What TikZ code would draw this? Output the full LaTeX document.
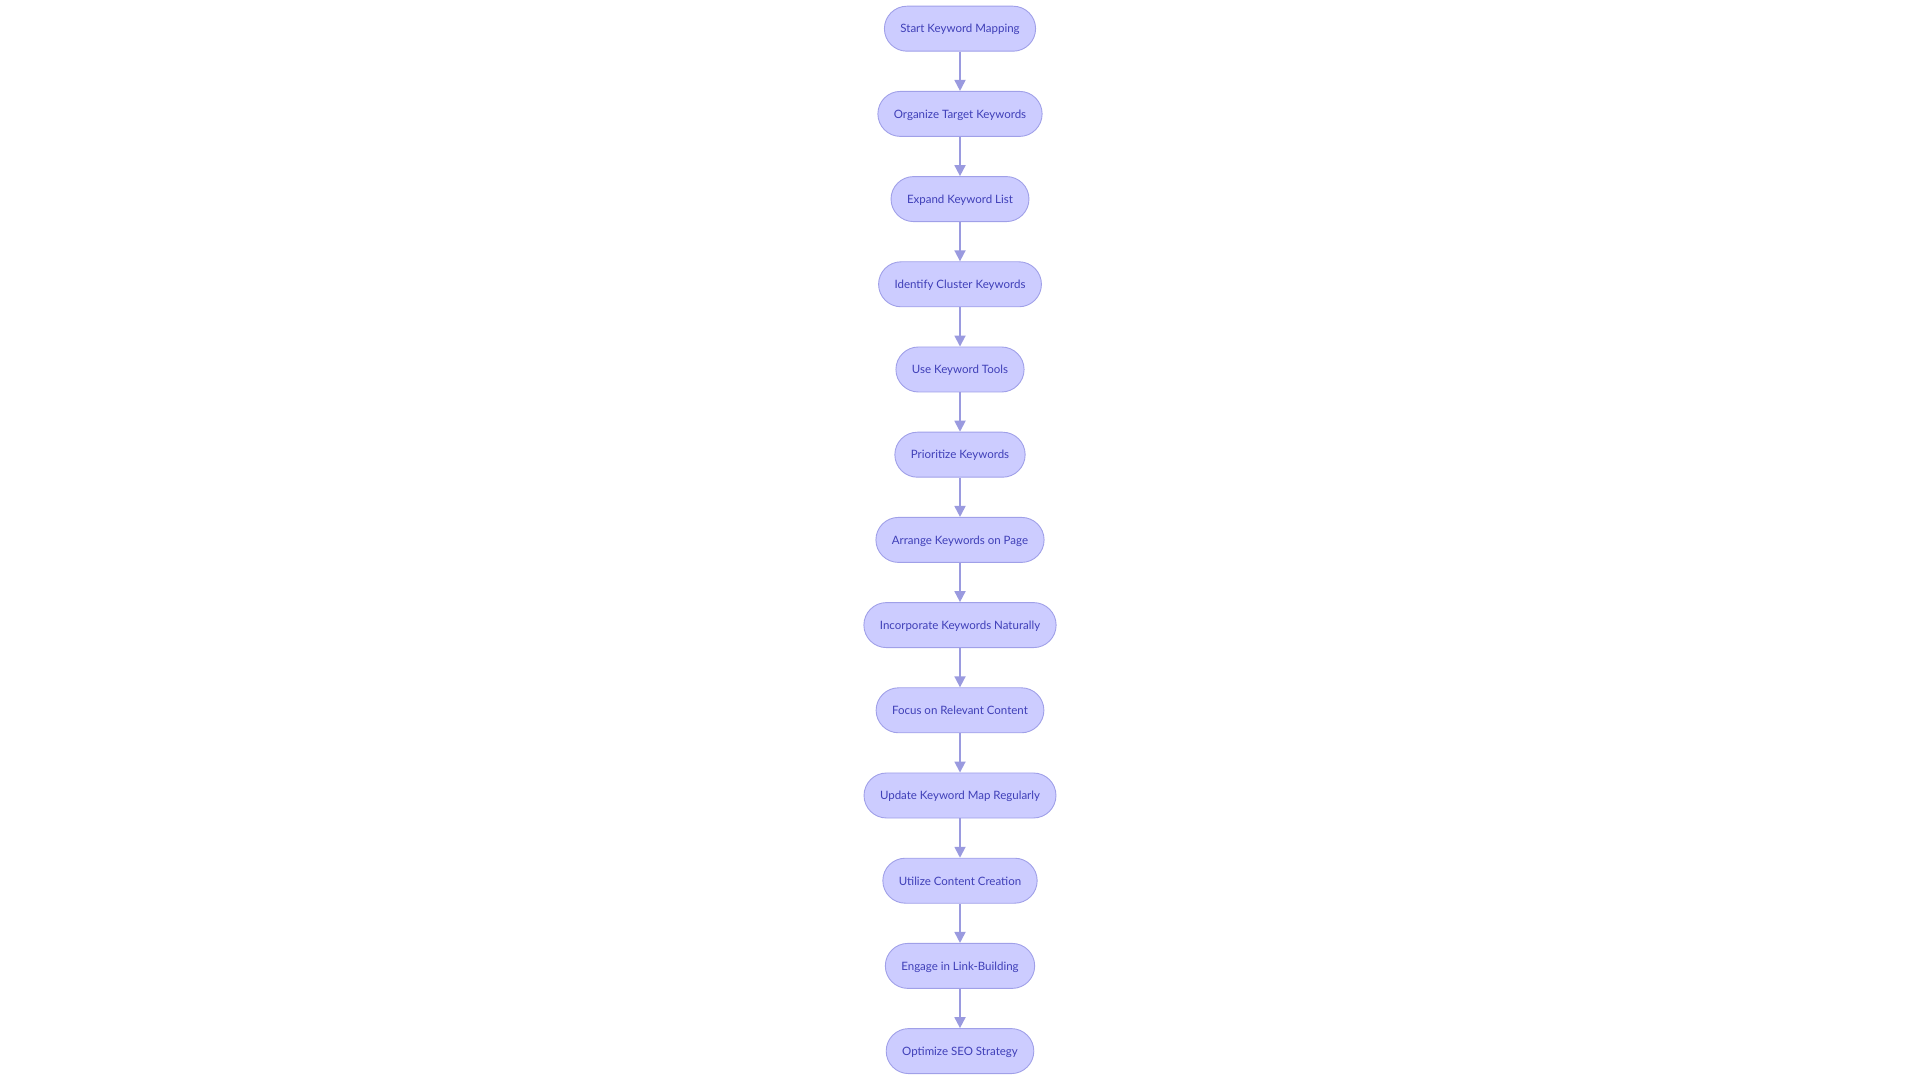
\documentclass[tikz,border=0pt]{standalone}
\usepackage{fontspec}
\setmainfont{Lato}
\usetikzlibrary{arrows.meta}
\definecolor{boxfill}{HTML}{CCCCFF}
\definecolor{boxline}{HTML}{A0A0E8}
\definecolor{boxtext}{HTML}{3F3FB8}
\definecolor{arrowcol}{HTML}{9A9ADF}
\tikzset{
  stepbox/.style={draw=boxline, fill=boxfill, line width=0.9pt, rounded corners=22.5pt,
    minimum height=45pt, inner xsep=16pt, inner ysep=0pt, text=boxtext,
    font=\fontsize{11.5pt}{13pt}\selectfont, text height=9.8pt, text depth=1.2pt},
  flowarrow/.style={draw=arrowcol, line width=1.8pt, -{Triangle[length=11pt,width=11pt]}}
}
\begin{document}
\begin{tikzpicture}[x=1pt,y=1pt]
\useasboundingbox (0,0) rectangle (1920,1080);
\def\cx{960}
\node[stepbox] (n1) at (\cx,{1080-28.7-85.2*0}) {Start Keyword Mapping};
\node[stepbox] (n2) at (\cx,{1080-28.7-85.2*1}) {Organize Target Keywords};
\node[stepbox] (n3) at (\cx,{1080-28.7-85.2*2}) {Expand Keyword List};
\node[stepbox] (n4) at (\cx,{1080-28.7-85.2*3}) {Identify Cluster Keywords};
\node[stepbox] (n5) at (\cx,{1080-28.7-85.2*4}) {Use Keyword Tools};
\node[stepbox] (n6) at (\cx,{1080-28.7-85.2*5}) {Prioritize Keywords};
\node[stepbox] (n7) at (\cx,{1080-28.7-85.2*6}) {Arrange Keywords on Page};
\node[stepbox] (n8) at (\cx,{1080-28.7-85.2*7}) {Incorporate Keywords Naturally};
\node[stepbox] (n9) at (\cx,{1080-28.7-85.2*8}) {Focus on Relevant Content};
\node[stepbox] (n10) at (\cx,{1080-28.7-85.2*9}) {Update Keyword Map Regularly};
\node[stepbox] (n11) at (\cx,{1080-28.7-85.2*10}) {Utilize Content Creation};
\node[stepbox] (n12) at (\cx,{1080-28.7-85.2*11}) {Engage in Link-Building};
\node[stepbox] (n13) at (\cx,{1080-28.7-85.2*12}) {Optimize SEO Strategy};
\foreach \a/\b in {n1/n2,n2/n3,n3/n4,n4/n5,n5/n6,n6/n7,n7/n8,n8/n9,n9/n10,n10/n11,n11/n12,n12/n13}
  \draw[flowarrow] (\a) -- (\b);
\end{tikzpicture}
\end{document}
